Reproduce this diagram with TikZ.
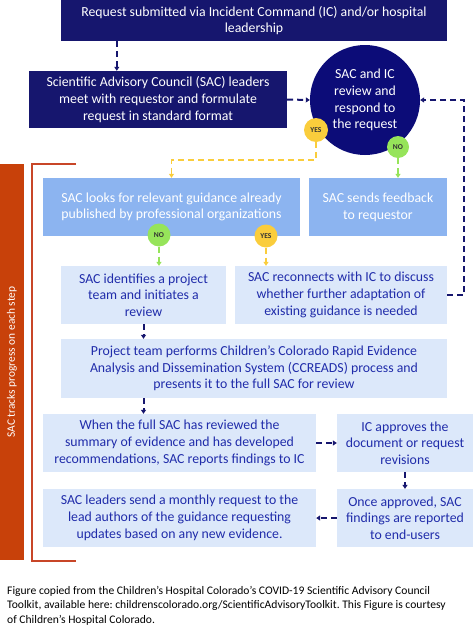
\documentclass[tikz,border=0pt]{standalone}
\usepackage{fontspec}
\setmainfont{Carlito}
\frenchspacing
\usetikzlibrary{arrows.meta, positioning, calc}
\definecolor{sacnavy}{RGB}{22,22,110}
\definecolor{sacdeep}{RGB}{12,12,120}
\definecolor{sacmid}{RGB}{140,180,240}
\definecolor{saclight}{RGB}{220,232,250}
\definecolor{sactext}{RGB}{32,44,170}
\definecolor{sacorange}{RGB}{200,65,10}
\definecolor{sacline}{RGB}{200,70,40}
\definecolor{yesyellow}{RGB}{250,205,60}
\definecolor{nogreen}{RGB}{150,228,90}
\tikzset{
  stepnavy/.style={rectangle, fill=sacnavy, text=white, align=center,
                   inner sep=0pt, font=\fontsize{13.8}{16.7}\selectfont},
  stepmid/.style={stepnavy, fill=sacmid},
  steplight/.style={stepnavy, fill=saclight, text=sactext},
  badge/.style={circle, inner sep=0pt, minimum size=24pt,
                font=\fontsize{7.5}{8}\selectfont\bfseries, text=black!80},
  yesbadge/.style={badge, fill=yesyellow},
  nobadge/.style={badge, fill=nogreen},
  arrow/.style={-{Triangle[length=4pt,width=5pt]}, dash pattern=on 6pt off 4pt,
                line width=2pt, draw=sacnavy},
  yesarrow/.style={arrow, draw=yesyellow, line width=1.6pt},
  noarrow/.style={arrow, draw=nogreen, line width=1.6pt},
}

\begin{document}
\begin{tikzpicture}[x=1pt, y=-1pt]
  \useasboundingbox (0,0) rectangle (474,629);

  % Top row
  \node[stepnavy, minimum width=386, minimum height=41] (req) at (254,20.5)
    {Request submitted via Incident Command (IC) and/or hospital\\leadership};
  \node[stepnavy, minimum width=258, minimum height=57] (meet) at (158,99.5)
    {Scientific Advisory Council (SAC) leaders\\meet with requestor and formulate\\request in standard format};
  \node[stepnavy, circle, fill=sacdeep, minimum size=110] (sacic) at (365,100)
    {SAC and IC\\review and\\respond to\\the request};
  \node[yesbadge] (yesa) at (316,130) {YES};
  \node[nobadge, minimum size=22pt] (noa) at (398,147) {NO};

  % Guidance search
  \node[stepmid, minimum width=257, minimum height=58] (looks) at (171.5,207)
    {SAC looks for relevant guidance already\\published by professional organizations};
  \node[stepmid, minimum width=138, minimum height=58] (feedback) at (378,207)
    {SAC sends feedback\\to requestor};
  \node[nobadge, minimum size=23pt] (nob) at (159,235) {NO};
  \node[yesbadge, minimum size=23pt] (yesb) at (266,236) {YES};

  \node[steplight, minimum width=165, minimum height=58] (ident) at (143.5,295)
    {SAC identifies a project\\team and initiates a\\review};
  \node[steplight, minimum width=212, minimum height=58] (reconnect) at (341,295)
    {SAC reconnects with IC to discuss\\whether further adaptation of\\existing guidance is needed};
  \node[steplight, minimum width=386, minimum height=59] (ccreads) at (254,368.5)
    {Project team performs Children’s Colorado Rapid Evidence\\Analysis and Dissemination System (CCREADS) process and\\presents it to the full SAC for review};

  % Reporting
  \node[steplight, minimum width=273, minimum height=58] (reports) at (179.5,443)
    {When the full SAC has reviewed the\\summary of evidence and has developed\\recommendations, SAC reports findings to IC};
  \node[steplight, minimum width=136, minimum height=58] (approves) at (405,443)
    {IC approves the\\document or request\\revisions};
  \node[steplight, minimum width=273, minimum height=58] (monthly) at (179.5,518)
    {SAC leaders send a monthly request to the\\lead authors of the guidance requesting\\updates based on any new evidence.};
  \node[steplight, minimum width=136, minimum height=58] (enduser) at (405,518)
    {Once approved, SAC\\findings are reported\\to end-users};

  % Progress bar and bracket
  \node[fill=sacorange, text=white, rotate=90, inner sep=0pt,
        minimum width=396, minimum height=24,
        font=\fontsize{11.4}{14}\selectfont] (track) at (12,362)
    {SAC tracks progress on each step};
  \draw[sacline, line width=1.5pt] (76,164) -| (32,561) -- (76,561);

  % Connectors
  \draw[arrow] ([xshift=56pt]req.south west) -- ([xshift=88pt]meet.north west);
  \draw[arrow] (meet.east) -- (sacic.west);
  \draw[yesarrow] (yesa.south) -- ++(0,18) -| (looks.north);
  \draw[noarrow] (noa.south) -- (noa.south |- feedback.north);
  \draw[noarrow] (nob.south) -- (nob.south |- ident.north);
  \draw[yesarrow] (yesb.south) -- (yesb.south |- reconnect.north);
  \draw[arrow] (reconnect.east) -- ++(17,0) |- (sacic.east);
  \draw[arrow] (ident.south) -- (ident.south |- ccreads.north);
  \draw[arrow] (ident.south |- ccreads.south) -- (ident.south |- reports.north);
  \draw[arrow] (reports.east) -- (approves.west);
  \draw[arrow] (approves.south) -- (enduser.north);
  \draw[arrow] (enduser.west) -- (monthly.east);

  % Caption
  \node[anchor=north west, inner sep=0pt, align=left,
        font=\fontsize{11.6}{14.5}\selectfont] (caption) at (7,586)
    {Figure copied from the Children’s Hospital Colorado’s COVID-19 Scientific Advisory Council\\
     Toolkit, available here: childrenscolorado.org/ScientificAdvisoryToolkit. This Figure is courtesy\\
     of Children’s Hospital Colorado.};
\end{tikzpicture}
\end{document}
